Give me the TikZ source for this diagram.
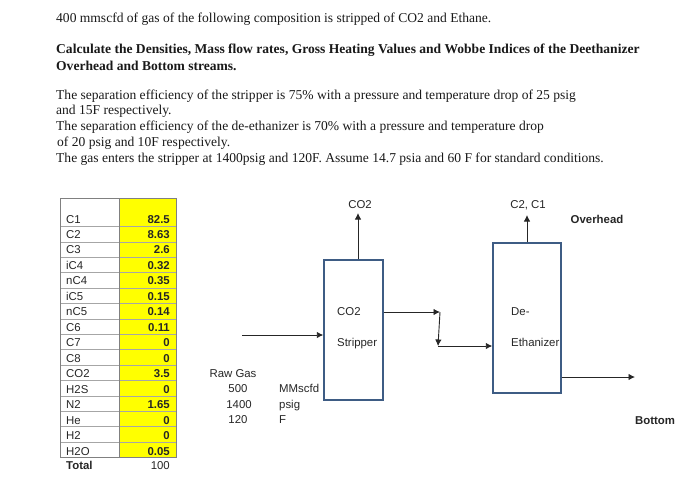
\documentclass[tikz,border=0pt]{standalone}
\usepackage{fontspec}
\setmainfont{Liberation Serif}
\setsansfont{Liberation Sans}
\usetikzlibrary{arrows.meta}
\definecolor{boxblue}{RGB}{62,92,132}
\definecolor{cellyellow}{RGB}{255,255,0}
\tikzset{
question/.style={anchor=west,inner sep=0pt,font=\fontsize{13.55}{15}\selectfont,text=black!90},
label text/.style={inner sep=0pt,text height=8pt,text depth=2pt,font=\sffamily\fontsize{11.4}{13}\selectfont,text=black!85},
bold text/.style={label text,font=\sffamily\bfseries\fontsize{11.4}{13}\selectfont},
unit box/.style={draw=boxblue,line width=1.4pt,minimum width=#1,inner sep=0pt},
flow/.style={-{Latex[length=6.5pt,width=6.5pt]},black!85,line width=0.9pt},
}
\begin{document}
\begin{tikzpicture}[x=1pt,y=-1pt]
\useasboundingbox (0,0) rectangle (700,496);

\node[question] (q1) at (56,19.5) {400 mmscfd of gas of the following composition is stripped of CO2 and Ethane.};
\node[question,font=\bfseries\fontsize{13.55}{15}\selectfont] (q2) at (56,50.5) {Calculate the Densities, Mass flow rates, Gross Heating Values and Wobbe Indices of the Deethanizer};
\node[question,font=\bfseries\fontsize{13.55}{15}\selectfont] (q3) at (56,65.5) {Overhead and Bottom streams.};
\node[question] (q4) at (56,96.5) {The separation efficiency of the stripper is 75\% with a pressure and temperature drop of 25 psig};
\node[question] (q5) at (56,111) {and 15F respectively.};
\node[question] (q6) at (56,127.5) {The separation efficiency of the de-ethanizer is 70\% with a pressure and temperature drop};
\node[question] (q7) at (57,143) {of 20 psig and 10F respectively.};
\node[question] (q8) at (56,159) {The gas enters the stripper at 1400psig and 120F. Assume 14.7 psia and 60 F for standard conditions.};

% composition table
\fill[cellyellow] (119,198) rectangle (176,457);
\foreach \i in {0,...,15}
  \draw[black!35,line width=0.8pt] (60,{226.5+15.4*\i}) -- (176,{226.5+15.4*\i});
\draw[black!50,line width=0.8pt] (60,198) rectangle (176,457);
\draw[black!50,line width=0.8pt] (119,198) -- (119,457);
\foreach \name/\val [count=\i from 0] in {C1/82.5,C2/8.63,C3/2.6,iC4/0.32,nC4/0.35,iC5/0.15,nC5/0.14,C6/0.11,C7/0,C8/0,CO2/3.5,H2S/0,N2/1.65,He/0,H2/0,H2O/0.05}{
  \node[label text,anchor=west] (name\i) at (66,{220+15.47*\i}) {\name};
  \node[bold text,anchor=east] (val\i) at (170,{220+15.47*\i}) {\val};
}
\node[bold text,anchor=west] (total) at (66,466) {Total};
\node[label text,anchor=east] (totalval) at (170,466) {100};

% units
\node[unit box=59pt,minimum height=140pt] (stripper) at (353.5,330) {};
\node[unit box=68pt,minimum height=150pt] (ethanizer) at (527,318) {};
\node[label text,anchor=west] (s1) at (337,312) {CO2};
\node[label text,anchor=west] (s2) at (337,343) {Stripper};
\node[label text,anchor=west] (e1) at (511,312) {De-};
\node[label text,anchor=west] (e2) at (511,343) {Ethanizer};

\node[label text] (co2) at (360,205) {CO2};
\node[label text] (c2c1) at (528,205) {C2, C1};
\node[bold text] (overhead) at (597,220) {Overhead};
\node[bold text] (bottom) at (655,421) {Bottom};

\node[label text] (raw) at (233,374) {Raw Gas};
\node[label text] (rate) at (238,389) {500};
\node[label text] (press) at (239,405) {1400};
\node[label text] (temp) at (238,420) {120};
\node[label text,anchor=west] (rateunit) at (279,389) {MMscfd};
\node[label text,anchor=west] (pressunit) at (279,405) {psig};
\node[label text,anchor=west] (tempunit) at (279,420) {F};

% streams
\coordinate (co2end) at (358,213);
\coordinate (c2end) at (527,215);
\coordinate (feed) at (242,335);
\coordinate (turn1) at (440,312);
\coordinate (turn2) at (438,346);
\coordinate (bottomend) at (635,377);

\draw[flow] (stripper.north -| co2end) -- (co2end);
\draw[flow] (ethanizer.north -| c2end) -- (c2end);
\draw[flow] (feed) -- (stripper.west |- feed);
\draw[flow] (stripper.east |- turn1) -- (turn1);
\draw[flow] (turn1) -- (turn2);
\draw[flow] (turn2) -- (ethanizer.west |- turn2);
\draw[flow] (ethanizer.east |- bottomend) -- (bottomend);
\end{tikzpicture}
\end{document}
